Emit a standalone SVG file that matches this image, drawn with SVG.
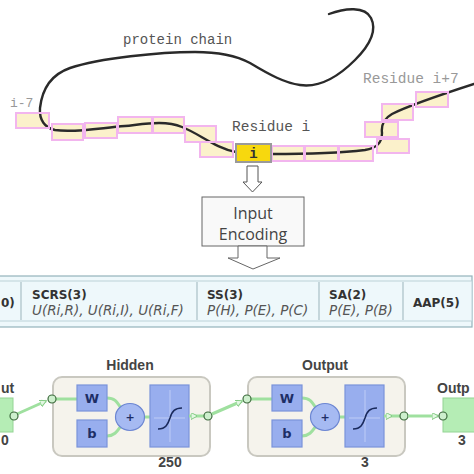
<svg xmlns="http://www.w3.org/2000/svg" width="474" height="474" viewBox="0 0 474 474">
<style>
.mono{font-family:"Liberation Mono","DejaVu Sans Mono",monospace}
.res{fill:#FBF1CB;stroke:none}
.resb{fill:none;stroke:#F2B5EE;stroke-width:2}
.chain{fill:none;stroke:#2a2a2a;stroke-width:2.4;stroke-linecap:round}
.hd{font-family:"DejaVu Sans",Verdana,sans-serif;font-weight:bold;font-size:12px;fill:#333}
.it{font-family:"DejaVu Sans",Verdana,sans-serif;font-style:italic;font-size:13.5px;fill:#555}
.lbl{font-family:"Liberation Sans",Arial,sans-serif;font-weight:bold;font-size:14px;fill:#444}
.frame{fill:#F5F3EC;stroke:#C9C8C0;stroke-width:2}
.blue{fill:#98AEEE;stroke:#7A93DA;stroke-width:1.2}
.wb{font-family:"DejaVu Sans",Verdana,sans-serif;font-weight:bold;font-size:13px;fill:#1E2E66}
.gl{fill:none;stroke:#9FE09F;stroke-width:3}
.dot{fill:#CDEFCD;stroke:#3C6A3C;stroke-width:1.2}
.gbox{fill:#B5EDB5;stroke:#94D494;stroke-width:1}
.sig{fill:none;stroke:#1A2A5C;stroke-width:1.6}
.cross{stroke:#C8D4F8;stroke-width:0.8}
</style>
<defs>
<marker id="tri" markerWidth="8" markerHeight="8" refX="6" refY="3.5" orient="auto" markerUnits="userSpaceOnUse">
<path d="M0,0 L6.5,3.5 L0,7 Z" fill="#E2F7E2" stroke="#86CC86" stroke-width="1"/>
</marker>
</defs>
<rect width="474" height="474" fill="#ffffff"/>

<g id="protein">
<text x="123" y="44" class="mono" font-size="14" fill="#555">protein chain</text>
<text x="10" y="107" class="mono" font-size="13" fill="#999">i-7</text>
<text x="232" y="131" class="mono" font-size="14.5" fill="#555">Residue i</text>
<text x="363" y="83" class="mono" font-size="14.5" fill="#999">Residue i+7</text>
<g id="residue-fills">
<rect class="res" x="16" y="113" width="33" height="15"/>
<rect class="res" x="52" y="124" width="31" height="16"/>
<rect class="res" x="85" y="123" width="32" height="15"/>
<rect class="res" x="118" y="117" width="34" height="16"/>
<rect class="res" x="153" y="117" width="31" height="16"/>
<rect class="res" x="185" y="126" width="31" height="16"/>
<rect class="res" x="200" y="142" width="33" height="15"/>
<rect class="res" x="272" y="146" width="32" height="15"/>
<rect class="res" x="305" y="146" width="33" height="15"/>
<rect class="res" x="339" y="146" width="34" height="15"/>
<rect class="res" x="377" y="139" width="32" height="14"/>
<rect class="res" x="365" y="122" width="33" height="15"/>
<rect class="res" x="382" y="104" width="31" height="16"/>
<rect class="res" x="416" y="92" width="32" height="15"/>
</g>
<path class="chain" d="M329,14 C345,8 365,6 371,18 C377,30 370,45 355,60 C340,75 320,88 300,85 C285,83 270,75 250,63 C235,55 215,52 195,52 C160,52 100,58 70,68 C50,75 42,90 40,108 C39,120 45,128 55,130 C75,133 100,128 125,126 C145,124 165,120 182,127 C200,134 215,148 236,152"/>
<path class="chain" d="M271,154 C300,154 340,153 365,150 C378,148 382,142 382,133 C381,125 385,118 392,114 C410,105 440,95 474,84"/>
<g id="residue-borders">
<rect class="resb" x="16" y="113" width="33" height="15"/>
<rect class="resb" x="52" y="124" width="31" height="16"/>
<rect class="resb" x="85" y="123" width="32" height="15"/>
<rect class="resb" x="118" y="117" width="34" height="16"/>
<rect class="resb" x="153" y="117" width="31" height="16"/>
<rect class="resb" x="185" y="126" width="31" height="16"/>
<rect class="resb" x="200" y="142" width="33" height="15"/>
<rect class="resb" x="272" y="146" width="32" height="15"/>
<rect class="resb" x="305" y="146" width="33" height="15"/>
<rect class="resb" x="339" y="146" width="34" height="15"/>
<rect class="resb" x="377" y="139" width="32" height="14"/>
<rect class="resb" x="365" y="122" width="33" height="15"/>
<rect class="resb" x="382" y="104" width="31" height="16"/>
<rect class="resb" x="416" y="92" width="32" height="15"/>
</g>
<g id="residue-i">
<rect x="236" y="144" width="35" height="18" fill="#F7D80E" stroke="#9A9A9A" stroke-width="2"/>
<text x="253.5" y="158" class="mono" font-size="14" font-weight="bold" fill="#333" text-anchor="middle">i</text>
</g>
</g>

<g id="encoding">
<path d="M247,166 L258,166 L258,182 L262,182 L252.5,192 L243,182 L247,182 Z" fill="#fff" stroke="#555" stroke-width="1"/>
<rect x="202" y="197" width="102" height="49" fill="#F9F9F9" stroke="#666" stroke-width="1"/>
<text x="253" y="219" font-family="'Open Sans','Liberation Sans',sans-serif" font-size="16" fill="#444" text-anchor="middle">Input</text>
<text x="253" y="240" font-family="'Open Sans','Liberation Sans',sans-serif" font-size="16" fill="#444" text-anchor="middle">Encoding</text>
<path d="M238,246 L267,246 L267,258 L280,258 L253,269 L228,258 L238,258 Z" fill="#fff" stroke="#666" stroke-width="1"/>
</g>

<g id="table">
<rect x="-2" y="276" width="474" height="51" fill="#EEF8FB" stroke="#93B3BB" stroke-width="1.2"/>
<rect x="-2" y="281" width="474" height="40" fill="#EEF8FB" stroke="#BCD2D8" stroke-width="1"/>
<g stroke="#A9C0C6" stroke-width="1.2">
<line x1="21" y1="282" x2="21" y2="320"/>
<line x1="197" y1="282" x2="197" y2="320"/>
<line x1="319" y1="282" x2="319" y2="320"/>
<line x1="403" y1="282" x2="403" y2="320"/>
</g>
<text x="1" y="307" class="hd">0)</text>
<text x="32" y="299" class="hd">SCRS(3)</text>
<text x="32" y="315" class="it">U(Ri,R), U(Ri,I), U(Ri,F)</text>
<text x="207" y="299" class="hd">SS(3)</text>
<text x="207" y="315" class="it">P(H), P(E), P(C)</text>
<text x="329" y="299" class="hd">SA(2)</text>
<text x="329" y="315" class="it">P(E), P(B)</text>
<text x="413" y="307" class="hd">AAP(5)</text>
</g>

<g id="input-node">
<rect class="gbox" x="-5" y="398" width="18" height="34"/>
<text x="1" y="393" class="lbl">ut</text>
<text x="1" y="445" class="lbl">0</text>
</g>

<g id="hidden-layer">
<text x="130" y="370" class="lbl" text-anchor="middle">Hidden</text>
<rect class="frame" x="53" y="377" width="157" height="79" rx="9"/>
<path class="gl" d="M56,399 L77,399"/>
<path class="gl" d="M107,398 C115,398 117,402 121,408"/>
<path class="gl" d="M107,436 C115,436 118,430 121,426"/>
<path class="gl" d="M144,417 L150,417"/>
<rect class="blue" x="77" y="385" width="30" height="26"/>
<text x="92" y="403" class="wb" text-anchor="middle">W</text>
<rect class="blue" x="77" y="420" width="30" height="27"/>
<text x="92" y="438" class="wb" text-anchor="middle">b</text>
<ellipse cx="130" cy="417" rx="14.5" ry="13.5" fill="#A6BAF2" stroke="#6C86D2" stroke-width="1.2"/>
<text x="130" y="421" font-family="'DejaVu Sans',sans-serif" font-weight="bold" font-size="11" fill="#1E2E66" text-anchor="middle">+</text>
<rect class="blue" x="150" y="385" width="39" height="62"/>
<line class="cross" x1="170" y1="390" x2="170" y2="442"/>
<line class="cross" x1="154" y1="418" x2="185" y2="418"/>
<path class="sig" d="M158,429 C166,429 168,424 170,418 C172,411 175,408 182,408"/>
<path class="gl" d="M189,416 L197,416" marker-end="url(#tri)"/>
<path class="gl" d="M197,416 L204,416"/>
<circle class="dot" cx="52" cy="399" r="4"/>
<circle class="dot" cx="208" cy="416" r="4"/>
<text x="170" y="467" class="lbl" text-anchor="middle">250</text>
</g>

<g id="output-layer">
<text x="325" y="370" class="lbl" text-anchor="middle">Output</text>
<rect class="frame" x="248" y="377" width="157" height="79" rx="9"/>
<path class="gl" d="M251,399 L272,399"/>
<path class="gl" d="M302,398 C310,398 312,402 316,408"/>
<path class="gl" d="M302,436 C310,436 313,430 316,426"/>
<path class="gl" d="M339,417 L345,417"/>
<rect class="blue" x="272" y="385" width="30" height="26"/>
<text x="287" y="403" class="wb" text-anchor="middle">W</text>
<rect class="blue" x="272" y="420" width="30" height="27"/>
<text x="287" y="438" class="wb" text-anchor="middle">b</text>
<ellipse cx="325" cy="417" rx="14.5" ry="13.5" fill="#A6BAF2" stroke="#6C86D2" stroke-width="1.2"/>
<text x="325" y="421" font-family="'DejaVu Sans',sans-serif" font-weight="bold" font-size="11" fill="#1E2E66" text-anchor="middle">+</text>
<rect class="blue" x="345" y="385" width="39" height="62"/>
<line class="cross" x1="365" y1="390" x2="365" y2="442"/>
<line class="cross" x1="349" y1="418" x2="380" y2="418"/>
<path class="sig" d="M353,429 C361,429 363,424 365,418 C367,411 370,408 377,408"/>
<path class="gl" d="M384,416 L392,416" marker-end="url(#tri)"/>
<path class="gl" d="M392,416 L400,416"/>
<circle class="dot" cx="247" cy="399" r="4"/>
<circle class="dot" cx="404" cy="416" r="4"/>
<text x="365" y="467" class="lbl" text-anchor="middle">3</text>
</g>

<g id="output-node">
<rect class="gbox" x="443" y="398" width="36" height="34"/>
<text x="437" y="393" class="lbl">Outp</text>
<text x="462" y="445" class="lbl" text-anchor="middle">3</text>
</g>

<g id="connectors">
<path class="gl" d="M17,414 L46,401" marker-end="url(#tri)"/>
<path class="gl" d="M212,414 L242,401" marker-end="url(#tri)"/>
<path class="gl" d="M408,416 L438,416" marker-end="url(#tri)"/>
</g>
<circle class="dot" cx="14" cy="416" r="4"/>
<circle class="dot" cx="443" cy="416" r="4"/>
</svg>
